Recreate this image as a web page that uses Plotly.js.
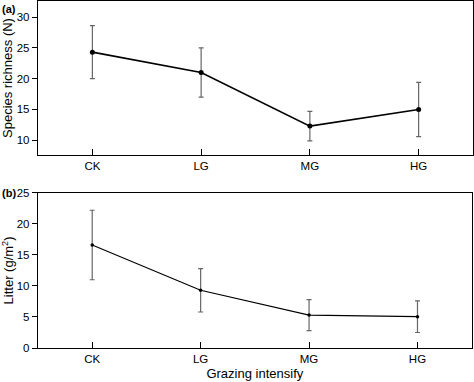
<!DOCTYPE html>
<html><head><meta charset="utf-8">
<script src="https://cdn.plot.ly/plotly-3.0.1.min.js"></script>
<style>body{margin:0;background:#fff}#chart{width:474px;height:382px}</style>
</head><body><div id="chart"></div>
<script>
const categories = ["CK", "LG", "MG", "HG"];
const richness = [24.3, 21.0, 12.3, 15.0];
const richnessErr = [4.3, 4.0, 2.4, 4.4];
const litter = [16.6, 9.3, 5.3, 5.05];
const litterErr = [5.6, 3.5, 2.5, 2.55];

const font = "Arial, 'Liberation Sans', sans-serif";
const traces = [
  {x: categories, y: richness, type: "scatter", mode: "lines+markers",
   xaxis: "x", yaxis: "y",
   line: {color: "#000", width: 1.6}, marker: {color: "#000", size: 5},
   error_y: {type: "data", array: richnessErr, visible: true, color: "#666", thickness: 1.2, width: 2.5}},
  {x: categories, y: litter, type: "scatter", mode: "lines+markers",
   xaxis: "x2", yaxis: "y2",
   line: {color: "#000", width: 1.2}, marker: {color: "#000", size: 3.5},
   error_y: {type: "data", array: litterErr, visible: true, color: "#666", thickness: 1.2, width: 2.5}}
];
const axBase = {showline: true, linecolor: "#000", linewidth: 1.2, mirror: true, showgrid: false, zeroline: false,
  tickfont: {family: font, size: 11.5, color: "#000"}};
const layout = {
  width: 474, height: 382,
  margin: {l: 38, r: 1, t: 1, b: 34},
  paper_bgcolor: "#fff", plot_bgcolor: "#fff",
  showlegend: false,
  font: {family: font, color: "#000"},
  xaxis: Object.assign({}, axBase, {domain: [0, 1], anchor: "y", range: [-0.5, 3.5], ticks: "inside", ticklen: 6, tickcolor: "#000", type: "category"}),
  yaxis: Object.assign({}, axBase, {domain: [0.556, 1], anchor: "x", range: [7.6, 32.6], tickvals: [10, 15, 20, 25, 30], ticks: "outside", ticklen: 5, tickcolor: "#000",
    title: {text: "Species richness (N)", font: {family: font, size: 13, color: "#000"}, standoff: 4}}),
  xaxis2: Object.assign({}, axBase, {domain: [0, 0.997], anchor: "y2", range: [-0.5, 3.5], ticks: "inside", ticklen: 6, tickcolor: "#000", type: "category",
    title: {text: "Grazing intensify", font: {family: font, size: 13, color: "#000"}, standoff: 4}}),
  yaxis2: Object.assign({}, axBase, {domain: [0, 0.447], anchor: "x2", range: [0, 25], tickvals: [0, 5, 10, 15, 20, 25], ticks: "outside", ticklen: 5, tickcolor: "#000",
    title: {text: "Litter (g/m<sup>2</sup>)", font: {family: font, size: 13, color: "#000"}, standoff: 4}}),
  annotations: [
    {text: "<b>(a)</b>", xref: "paper", yref: "paper", x: -38/435, y: 1, xanchor: "left", yanchor: "top", showarrow: false, font: {family: font, size: 11, color: "#000"}},
    {text: "<b>(b)</b>", xref: "paper", yref: "paper", x: -38/435, y: 0.447, xanchor: "left", yanchor: "middle", showarrow: false, font: {family: font, size: 11, color: "#000"}}
  ]
};
Plotly.newPlot("chart", traces, layout, {displayModeBar: false, staticPlot: true});
</script></body></html>
